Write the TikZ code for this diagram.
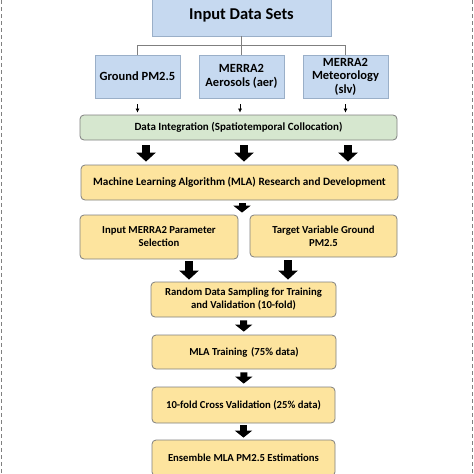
\documentclass[tikz,border=0pt]{standalone}
\usepackage{fontspec}
\setmainfont{Carlito}
\usetikzlibrary{arrows.meta}
\definecolor{boxblue}{HTML}{C6D9F0}
\definecolor{lineblue}{HTML}{9AAFC8}
\definecolor{boxgreen}{HTML}{D6E7CF}
\definecolor{boxyellow}{HTML}{FDE49E}
\definecolor{linegray}{HTML}{7F7F7F}
\begin{document}
\begin{tikzpicture}[x=1pt,y=-1pt,
        bluebox/.style={draw=lineblue,fill=boxblue,line width=0.8pt,align=center,
            font=\bfseries\fontsize{12.5}{13.5}\selectfont,inner sep=2pt},
        greenbox/.style={draw=linegray,fill=boxgreen,line width=0.8pt,rounded corners=4pt,
            align=center,font=\bfseries\fontsize{11}{13}\selectfont},
        yellowbox/.style={draw=linegray,fill=boxyellow,line width=0.8pt,rounded corners=4pt,
            align=center,font=\bfseries\fontsize{10.7}{13}\selectfont},
        thinarrow/.style={draw=black,line width=0.6pt,-{Latex[length=4pt,width=4pt]},
            shorten <=6pt,shorten >=2pt},
        fatarrow/.style={draw=black,line width=8pt,-{Triangle[length=9pt,width=19pt]}},
        flatarrow/.style={draw=black,line width=7pt,-{Triangle[length=7pt,width=17pt]}}]
    \useasboundingbox (0,0) rectangle (474,474);
    \clip (0,0) rectangle (474,474);
    \draw[gray,line width=1.5pt,dash pattern=on 4pt off 3pt] (1.5,0) -- (1.5,474);
    \draw[gray,line width=1.5pt,dash pattern=on 4pt off 3pt] (472.5,0) -- (472.5,474);

    \node[bluebox,minimum width=179pt,minimum height=41pt,
        font=\bfseries\fontsize{16.5}{18}\selectfont] (inp) at (241.5,15.5) {Input Data Sets};
    \node[bluebox,minimum width=85pt,minimum height=43pt] (ground) at (137.5,76.5) {Ground PM2.5};
    \node[bluebox,minimum width=85pt,minimum height=43pt] (aer) at (241.5,76.5) {MERRA2\\Aerosols (aer)};
    \node[bluebox,minimum width=85pt,minimum height=43pt] (met) at (345.5,76.5) {MERRA2\\Meteorology\\(slv)};
    \draw[linegray,line width=0.8pt] (inp.south) -- (aer.north);
    \draw[linegray,line width=0.8pt] (ground.north) -- ++(0,-9) -| (met.north);

    \node[greenbox,minimum width=317pt,minimum height=25pt] (integ) at (238.5,127.5)
        {Data Integration (Spatiotemporal Collocation)};
    \draw[thinarrow] (ground.south) -- (ground.south |- integ.north);
    \draw[thinarrow] ([xshift=-1.5pt]aer.south) -- ([xshift=-1.5pt]aer.south |- integ.north);
    \draw[thinarrow] (met.south) -- (met.south |- integ.north);

    \node[yellowbox,minimum width=317pt,minimum height=35pt,
        font=\bfseries\fontsize{11.2}{13}\selectfont] (mla) at (239.5,182.5)
        {Machine Learning Algorithm (MLA) Research and Development};
    \foreach \dx in {-92.5,5.5,109.5}
        \draw[fatarrow,shorten <=5pt,shorten >=3pt] ([xshift=\dx pt]integ.south) -- ([xshift=\dx pt]integ.south |- mla.north);

    \node[yellowbox,minimum width=158pt,minimum height=44pt] (sel) at (159,237)
        {Input MERRA2 Parameter\\Selection};
    \node[yellowbox,minimum width=147pt,minimum height=42pt] (target) at (323.5,236)
        {Target Variable Ground\\PM2.5};
    \draw[flatarrow,shorten <=3pt,shorten >=2pt] ([xshift=2.5pt]mla.south) -- ([xshift=2.5pt]mla.south |- sel.north);

    \node[yellowbox,minimum width=185pt,minimum height=35pt] (sample) at (243.5,299.5)
        {Random Data Sampling for Training\\and Validation (10-fold)};
    \draw[fatarrow,shorten <=2pt,shorten >=2pt] ([xshift=30pt]sel.south) -- ([xshift=30pt]sel.south |- sample.north);
    \draw[fatarrow,shorten <=3pt,shorten >=2pt] ([xshift=-35.5pt]target.south) -- ([xshift=-35.5pt]target.south |- sample.north);

    \node[yellowbox,minimum width=184pt,minimum height=34pt] (train) at (244,352)
        {MLA Training\,\,(75\% data)};
    \node[yellowbox,minimum width=183pt,minimum height=36pt] (cv) at (243.5,405)
        {10-fold Cross Validation (25\% data)};
    \node[yellowbox,minimum width=183pt,minimum height=36pt] (ens) at (243.5,458)
        {Ensemble MLA PM2.5 Estimations};
    \draw[flatarrow,shorten <=3pt,shorten >=3pt] (sample) -- (train);
    \draw[flatarrow,shorten <=3pt,shorten >=3pt] (train) -- (cv);
    \draw[flatarrow,shorten <=2pt,shorten >=2pt] (cv) -- (ens);
\end{tikzpicture}
\end{document}
